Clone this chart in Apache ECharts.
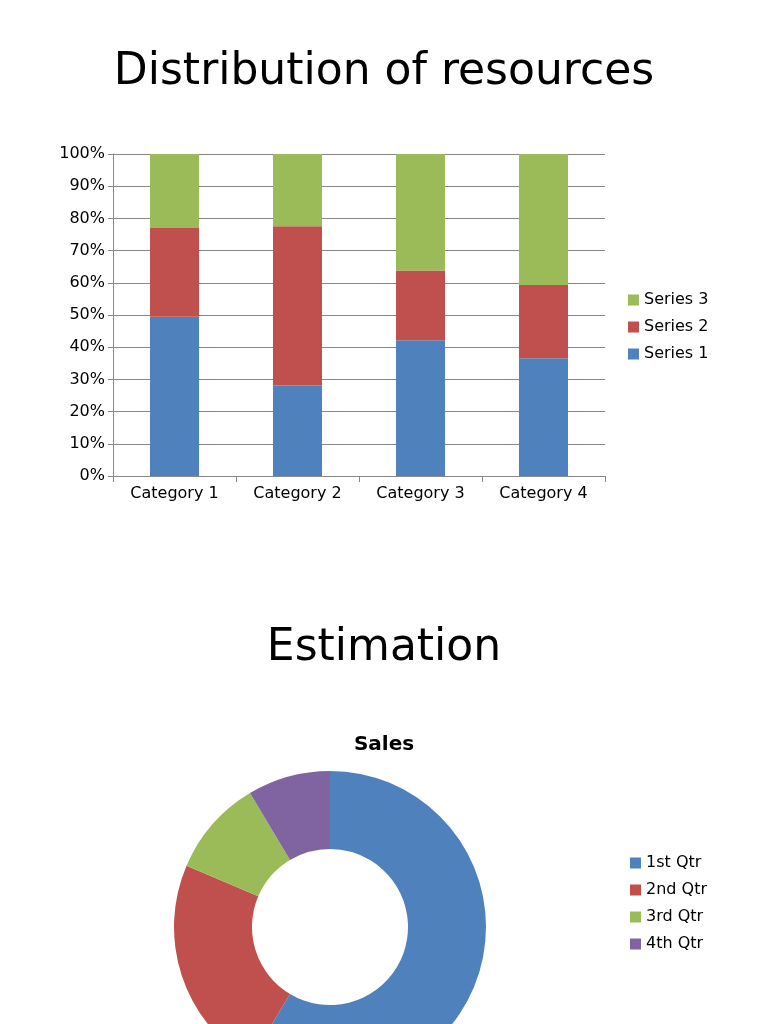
<!DOCTYPE html>
<html><head><meta charset="utf-8">
<script src="https://cdn.jsdelivr.net/npm/echarts@6/dist/echarts.min.js"></script>
<style>html,body{margin:0;padding:0;background:#fff}#c{width:768px;height:1024px}</style>
</head><body><div id="c"></div>
<script>
const categories = ['Category 1','Category 2','Category 3','Category 4'];
const series1 = [4.3, 2.5, 3.5, 4.5];
const series2 = [2.4, 4.4, 1.8, 2.8];
const series3 = [2, 2, 3, 5];
const pieLabels = ['1st Qtr','2nd Qtr','3rd Qtr','4th Qtr'];
const pieValues = [8.2, 3.2, 1.4, 1.2];
const colors = ['#4F81BD','#C0504D','#9BBB59','#8064A2'];

const totals = categories.map((_, i) => series1[i] + series2[i] + series3[i]);
const pct = arr => arr.map((v, i) => v / totals[i] * 100);
const font = 'DejaVu Sans';

const chart = echarts.init(document.getElementById('c'));
chart.setOption({
  animation: false,
  textStyle: { fontFamily: font },
  title: [
    { text: 'Distribution of resources', left: 'center', top: 46, textStyle: { fontSize: 44, fontWeight: 'normal', color: '#000', fontFamily: font } },
    { text: 'Estimation', left: 'center', top: 622, textStyle: { fontSize: 44, fontWeight: 'normal', color: '#000', fontFamily: font } },
    { text: 'Sales', left: 'center', top: 730, textStyle: { fontSize: 20, fontWeight: 'bold', color: '#000', fontFamily: font } }
  ],
  legend: [
    { orient: 'vertical', left: 623, top: 287, itemWidth: 11, itemHeight: 11, itemGap: 11, icon: 'rect',
      data: ['Series 3','Series 2','Series 1'], textStyle: { fontSize: 16, color: '#000', fontFamily: font } },
    { orient: 'vertical', left: 625, top: 850, itemWidth: 11, itemHeight: 11, itemGap: 11, icon: 'rect',
      data: pieLabels, textStyle: { fontSize: 16, color: '#000', fontFamily: font } }
  ],
  grid: { left: 113, right: 163, top: 154, bottom: 548 },
  xAxis: { type: 'category', data: categories,
    axisLine: { lineStyle: { color: '#888' } },
    axisTick: { show: true, length: 6, lineStyle: { color: '#888' } },
    axisLabel: { fontSize: 16, color: '#000', margin: 10 } },
  yAxis: { type: 'value', min: 0, max: 100, interval: 10,
    axisLine: { show: true, lineStyle: { color: '#888' } },
    axisTick: { show: true, length: 5, lineStyle: { color: '#888' } },
    splitLine: { lineStyle: { color: '#888' } },
    axisLabel: { fontSize: 16, color: '#000', formatter: '{value}%' } },
  color: colors,
  series: [
    { name: 'Series 1', type: 'bar', stack: 's', data: pct(series1), barWidth: 49, itemStyle: { color: colors[0] } },
    { name: 'Series 2', type: 'bar', stack: 's', data: pct(series2), itemStyle: { color: colors[1] } },
    { name: 'Series 3', type: 'bar', stack: 's', data: pct(series3), itemStyle: { color: colors[2] } },
    { name: 'Sales', type: 'pie', center: [330, 927], radius: [78, 156], startAngle: 90, clockwise: true,
      label: { show: false }, labelLine: { show: false }, emphasis: { disabled: true },
      itemStyle: { borderColor: '#fff', borderWidth: 0 },
      data: pieLabels.map((n, i) => ({ name: n, value: pieValues[i], itemStyle: { color: colors[i] } })) }
  ]
});
</script></body></html>
